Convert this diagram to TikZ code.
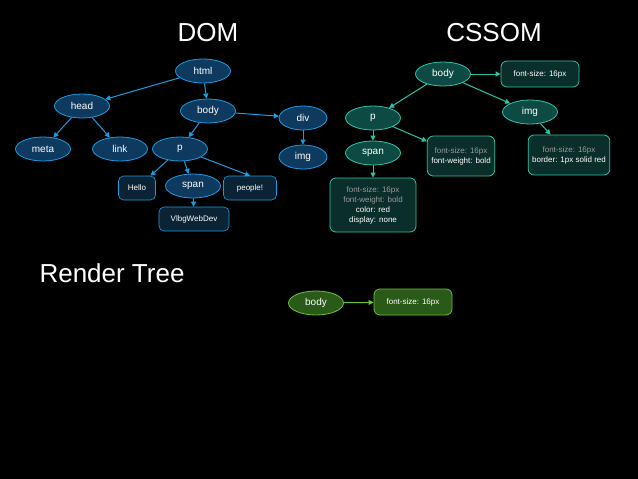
\documentclass[tikz,border=0pt]{standalone}
\usepackage{fontspec}
\setmainfont{Liberation Sans}
\usetikzlibrary{shapes.geometric,arrows.meta}
\definecolor{dfill}{HTML}{0D3A5E}\definecolor{dline}{HTML}{1E9BE0}\definecolor{dleaf}{HTML}{0A2436}
\definecolor{cfill}{HTML}{0E4A44}\definecolor{cline}{HTML}{2EC4A8}\definecolor{cbox}{HTML}{0A2E2A}
\definecolor{gfill}{HTML}{2A5A18}\definecolor{gline}{HTML}{6AC040}
\definecolor{gtext}{HTML}{9A9A9A}
\begin{document}
\begin{tikzpicture}[x=1pt,y=-1pt,
 de/.style={ellipse,draw=dline,fill=dfill,line width=0.8pt,minimum width=55pt,minimum height=24pt,inner sep=0pt,text=white,font=\fontsize{10}{12}\selectfont},
 dr/.style={rectangle,rounded corners=5pt,draw=dline,fill=dleaf,line width=0.6pt,minimum height=24pt,inner sep=3pt,text=white,font=\fontsize{8}{10}\selectfont},
 ce/.style={de,draw=cline,fill=cfill},
 cr/.style={rectangle,rounded corners=6pt,draw=cline,fill=cbox,line width=0.8pt,minimum height=26pt,inner sep=4pt,align=center,text=white,font=\fontsize{8}{10}\selectfont},
 ge/.style={de,draw=gline,fill=gfill},
 gr/.style={cr,draw=gline,fill=gfill},
 da/.style={-{Triangle[length=5pt,width=5pt]},draw=dline,line width=1pt},
 ca/.style={da,draw=cline},
 ga/.style={da,draw=gline},
 tt/.style={text=white,font=\fontsize{26}{30}\selectfont}]
\fill[black] (0,0) rectangle (638,479);
\node[tt] (tdom) at (208,33) {DOM};
\node[tt] (tcss) at (494,33) {CSSOM};
\node[tt,anchor=west] (trt) at (36,273) {Render Tree};
% DOM
\node[de] (html) at (203,71) {html};
\node[de] (head) at (82,106) {head};
\node[de] (body) at (208,111) {body};
\node[de,minimum width=48pt] (div) at (303,118) {div};
\node[de] (meta) at (43,149) {meta};
\node[de] (link) at (120,149) {link};
\node[de] (p) at (180,149) {p};
\node[de,minimum width=48pt] (img) at (303,157) {img};
\node[dr,minimum width=37pt] (hello) at (137,188) {Hello};
\node[de] (span) at (193,186) {span};
\node[dr,minimum width=53pt] (people) at (250,188) {people!};
\node[dr,minimum width=70pt] (vlbg) at (194,219) {VlbgWebDev};
\draw[da] (html) -- (head); \draw[da] (html) -- (body);
\draw[da] (head) -- (meta); \draw[da] (head) -- (link);
\draw[da] (body) -- (p); \draw[da] (body) -- (div); \draw[da] (div) -- (img);
\draw[da] (p) -- (hello); \draw[da] (p) -- (span); \draw[da] (p) -- (people.north);
\draw[da] (span) -- (vlbg);
% CSSOM
\node[ce] (cbody) at (443,74) {body};
\node[cr,minimum width=78pt] (c1) at (540,74) {font-size: 16px};
\node[ce] (cp) at (373,118) {p};
\node[ce] (cimg) at (530,112) {img};
\node[ce] (cspan) at (373,153) {span};
\node[cr,minimum height=40pt] (c2) at (461,156) {\textcolor{gtext}{font-size: 16px}\\font-weight: bold};
\node[cr,minimum height=40pt] (c3) at (569,155) {\textcolor{gtext}{font-size: 16px}\\border: 1px solid red};
\node[cr,minimum width=86pt,minimum height=54pt] (c4) at (373,205) {\textcolor{gtext}{font-size: 16px}\\\textcolor{gtext}{font-weight: bold}\\color: red\\display: none};
\draw[ca] (cbody) -- (c1); \draw[ca] (cbody) -- (cp); \draw[ca] (cbody) -- (cimg);
\draw[ca] (cp) -- (cspan); \draw[ca] (cp) -- (c2); \draw[ca] (cimg) -- (c3); \draw[ca] (cspan) -- (c4);
% Render tree
\node[ge] (rbody) at (316,303) {body};
\node[gr,minimum width=78pt] (r1) at (413,302) {font-size: 16px};
\draw[ga] (rbody) -- (r1);
\end{tikzpicture}
\end{document}
